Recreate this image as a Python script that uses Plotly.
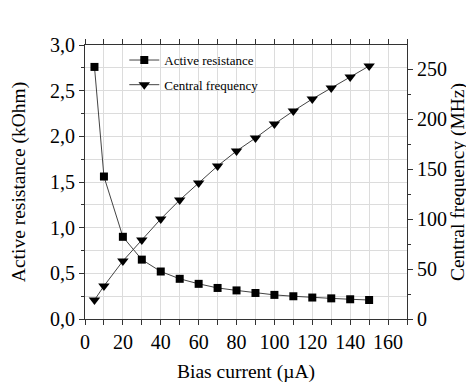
import plotly.graph_objects as go

bias_current = [5, 10, 20, 30, 40, 50, 60, 70, 80, 90, 100, 110, 120, 130, 140, 150]
active_resistance = [2.76, 1.56, 0.90, 0.65, 0.52, 0.44, 0.385, 0.34, 0.313, 0.285, 0.264, 0.249, 0.235, 0.226, 0.216, 0.208]
central_frequency = [19, 33, 58, 79, 100, 119, 136, 153, 168, 181, 195, 208, 220, 231, 242, 253]

FONT = "Liberation Serif"
LINE = "#444444"
GRID = "#dcdcdc"

fig = go.Figure()
fig.add_trace(go.Scatter(
    x=bias_current, y=active_resistance, name="Active resistance",
    mode="lines+markers", line=dict(color=LINE, width=1),
    marker=dict(symbol="square", size=8, color="black"),
    legend="legend"))
fig.add_trace(go.Scatter(
    x=bias_current, y=central_frequency, name="Central frequency",
    mode="lines+markers", line=dict(color=LINE, width=1),
    marker=dict(symbol="triangle-down", size=10, color="black"),
    yaxis="y2", legend="legend2"))

axis_common = dict(
    showline=True, linecolor="#333333", linewidth=1.2,
    ticks="outside", ticklen=5, tickcolor="#333333",
    tickfont=dict(family=FONT, size=20, color="black"),
    zeroline=False, automargin=False,
)
title_font = dict(family=FONT, size=19.5, color="black")

legend_common = dict(
    bgcolor="rgba(0,0,0,0)", font=dict(family=FONT, size=13, color="black"),
    xanchor="left", yanchor="middle", itemwidth=30,
)

# the page body adds an 8px margin, so the figure is sized to fill the rest
fig.update_layout(
    width=466, height=375,
    margin=dict(l=77, r=67, t=37, b=64),
    paper_bgcolor="white", plot_bgcolor="white",
    separators=", ",
    showlegend=True,
    xaxis=dict(
        **axis_common, range=[0, 170], dtick=20, tick0=0,
        mirror="allticks", showgrid=True, gridcolor=GRID,
        minor=dict(dtick=10, ticks="outside", ticklen=3, tickcolor="#333333",
                   showgrid=True, gridcolor=GRID),
        title=dict(text="Bias current (µA)", font=title_font, standoff=12),
    ),
    yaxis=dict(
        **axis_common, range=[0, 3.0], dtick=0.5, tick0=0, tickformat=".1f",
        showgrid=True, gridcolor=GRID,
        minor=dict(dtick=0.25, ticks="outside", ticklen=3, tickcolor="#333333",
                   showgrid=True, gridcolor=GRID),
        title=dict(text="Active resistance (kOhm)", font=title_font, standoff=20),
    ),
    yaxis2=dict(
        **axis_common, range=[0, 274], dtick=50, tick0=0,
        overlaying="y", side="right", showgrid=False,
        minor=dict(dtick=25, ticks="outside", ticklen=3, tickcolor="#333333"),
        title=dict(text="Central frequency (MHz)", font=title_font, standoff=3),
    ),
    legend=dict(**legend_common, x=0.122, y=0.945),
    legend2=dict(**legend_common, x=0.122, y=0.855),
)

fig.write_html("out.html")
